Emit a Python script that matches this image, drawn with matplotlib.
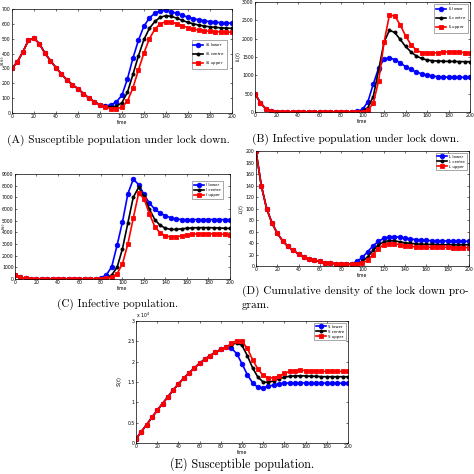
import numpy as np
import matplotlib.pyplot as plt

# time grid (every 5 units)
t = np.arange(0, 201, 5)

# (A) S_L(t)
sl_common = [300, 345, 413, 490, 503, 465, 402, 352, 305, 262, 222, 190, 163, 130, 100, 75, 55]
sl_lower = [48, 55, 75, 120, 230, 370, 490, 585, 640, 672, 688, 690, 682, 670, 657, 645, 635,
            627, 620, 615, 611, 608, 606, 604]
sl_centre = [45, 40, 45, 70, 140, 260, 385, 495, 570, 617, 645, 655, 650, 638, 623, 610, 600,
             592, 585, 580, 576, 573, 571, 570]
sl_upper = [38, 30, 30, 38, 80, 170, 290, 405, 500, 565, 602, 615, 612, 600, 587, 575, 565,
            558, 553, 550, 547, 546, 545, 544]

# (B) I_L(t)
il_common = [500, 250, 90, 30, 10, 4, 2, 1, 0, 0, 0, 0, 0, 0, 0, 0, 0, 1, 3]
il_lower = [15, 70, 280, 760, 1200, 1440, 1480, 1430, 1340, 1240, 1160, 1090, 1040, 1005, 980,
            965, 955, 950, 948, 947, 946, 945]
il_centre = [6, 25, 120, 420, 1150, 1900, 2230, 2170, 1980, 1790, 1640, 1530, 1460, 1420, 1400,
             1390, 1385, 1380, 1378, 1376, 1374, 1372]
il_upper = [3, 10, 50, 240, 850, 1900, 2640, 2620, 2380, 2080, 1840, 1690, 1620, 1600, 1605,
            1620, 1635, 1640, 1640, 1630, 1620, 1610]

# (C) I(t)
i_common = [300, 130, 50, 20, 10, 5, 3, 2, 2, 2, 2, 2, 3, 5, 8, 15]
i_lower = [100, 350, 1050, 2900, 4900, 7300, 8550, 8100, 7250, 6500, 6000, 5650, 5420, 5250,
           5150, 5100, 5090, 5090, 5100, 5100, 5100, 5100, 5100, 5090, 5080]
i_centre = [30, 100, 350, 1000, 2600, 4800, 7000, 7850, 7100, 6000, 5100, 4600, 4350, 4250,
            4250, 4300, 4350, 4380, 4400, 4400, 4400, 4390, 4370, 4350, 4330]
i_upper = [15, 50, 150, 450, 1300, 3000, 5200, 7350, 6900, 5600, 4500, 3950, 3700, 3600, 3620,
           3700, 3780, 3840, 3870, 3880, 3880, 3870, 3850, 3830, 3810]

# (D) L(t)
l_common = [200, 140, 100, 75, 57, 44, 34, 27, 21, 16, 13, 10, 8, 6, 5, 4, 3.5, 3]
l_lower = [4, 8, 15, 25, 35, 43, 48, 50.5, 51, 50, 48.5, 47, 46, 45, 44.5, 44, 44, 43.5, 43.5,
           43, 43, 43, 43]
l_centre = [3, 4, 8, 16, 27, 36, 42, 44, 44, 42, 40.5, 39.5, 38.5, 38, 37.5, 37.5, 37, 37, 37,
            37, 37, 37, 37]
l_upper = [3, 3, 5, 10, 20, 30, 37, 39, 39, 37, 35, 34, 33.5, 33, 32.5, 32.5, 32.5, 32.5, 32.5,
           32, 32, 32, 32]

# (E) S(t) in units of 10^4
s_common = [0.1, 0.28, 0.45, 0.63, 0.8, 0.97, 1.13, 1.3, 1.45, 1.59, 1.72, 1.84, 1.96, 2.06,
            2.15, 2.23, 2.3, 2.35]
s_lower = [2.33, 2.2, 1.95, 1.68, 1.48, 1.37, 1.36, 1.39, 1.43, 1.46, 1.47, 1.48, 1.48, 1.48,
           1.48, 1.48, 1.48, 1.48, 1.47, 1.47, 1.47, 1.47, 1.47]
s_centre = [2.42, 2.46, 2.4, 2.15, 1.85, 1.62, 1.5, 1.49, 1.53, 1.58, 1.62, 1.64, 1.65, 1.65,
            1.65, 1.64, 1.64, 1.63, 1.63, 1.63, 1.63, 1.63, 1.63]
s_upper = [2.45, 2.52, 2.5, 2.33, 2.05, 1.82, 1.66, 1.6, 1.6, 1.65, 1.71, 1.76, 1.78, 1.79,
           1.78, 1.77, 1.77, 1.76, 1.76, 1.76, 1.76, 1.76, 1.76]

styles = [('b', 'o', 'lower'), ('k', '.', 'centre'), ('r', 's', 'upper')]
tick_fs = 3.3

fig = plt.figure(figsize=(4.74, 4.74), dpi=100)


def caption(x, y, txt, size):
    fig.text(x / 474, 1 - y / 474, txt, fontsize=size, family='cmr10', ha='left', va='center')


def panel(rect, common, series, ylim, yticks, ylabel, prefix, leg_kw, ylab_x, ylab_fs=3.6):
    ax = fig.add_axes(rect)
    for (c, m, name), tail in zip(styles, series):
        y = np.array(common + tail, dtype=float)
        ax.plot(t, y, '-', color=c, marker=m, markersize=3.3 if m != '.' else 4.5,
                linewidth=1.2, markeredgewidth=0.6, label=prefix + ' ' + name)
    ax.set_xlim(0, 200)
    ax.set_ylim(*ylim)
    ax.set_xticks(np.arange(0, 201, 20))
    ax.set_yticks(yticks)
    ax.tick_params(direction='in', length=1.5, width=0.4, labelsize=tick_fs, pad=1,
                   top=True, right=True)
    for s in ax.spines.values():
        s.set_linewidth(0.5)
    ax.set_xlabel('time', fontsize=tick_fs, labelpad=0.5)
    ax.set_ylabel(ylabel, fontsize=ylab_fs)
    ax.yaxis.set_label_coords(ylab_x, 0.5)
    leg = ax.legend(fontsize=2.8, handlelength=2.6, borderpad=0.45, labelspacing=0.25,
                    handletextpad=0.5, fancybox=False, edgecolor='0.4', framealpha=1, **leg_kw)
    leg.get_frame().set_linewidth(0.4)
    return ax


panel([0.0253, 0.7616, 0.464, 0.2194], sl_common, [sl_lower, sl_centre, sl_upper],
      (0, 700), np.arange(0, 701, 100), r'$S_L(t)$', r'$S_L$',
      dict(loc='upper right', bbox_to_anchor=(0.985, 0.72)), -0.022, 3.0)
caption(7, 140, '(A) Susceptible population under lock down.', 8.15)

panel([0.538, 0.7637, 0.4536, 0.232], il_common, [il_lower, il_centre, il_upper],
      (0, 3000), np.arange(0, 3001, 500), r'$I_L(t)$', r'$I_L$',
      dict(loc='upper right'), -0.055)
caption(252, 139, '(B) Infective population under lock down.', 8.1)

panel([0.0316, 0.4114, 0.4536, 0.2215], i_common, [i_lower, i_centre, i_upper],
      (0, 9000), np.arange(0, 9001, 1000), r'$I(t)$', 'I',
      dict(loc='upper right', bbox_to_anchor=(0.975, 0.95)), -0.035, 3.0)
caption(57, 304, '(C) Infective population.', 8.0)

panel([0.540, 0.4388, 0.449, 0.2426], l_common, [l_lower, l_centre, l_upper],
      (0, 200), np.arange(0, 201, 20), r'$L(t)$', 'L',
      dict(loc='upper right'), -0.048)
caption(242, 291, '(D) Cumulative density of the lock down pro-', 8.1)
caption(242, 305, 'gram.', 8.1)

axE = panel([0.287, 0.0654, 0.447, 0.2574], s_common, [s_lower, s_centre, s_upper],
            (0, 3), np.arange(0, 3.01, 0.5), r'$S(t)$', 'S',
            dict(loc='upper right'), -0.055)
axE.set_yticklabels(['0', '0.5', '1', '1.5', '2', '2.5', '3'])
axE.text(0.0, 1.01, r'x 10$^4$', transform=axE.transAxes, fontsize=tick_fs, ha='left', va='bottom')
caption(170, 464, '(E) Susceptible population.', 8.7)

fig.savefig('out.png', dpi=100)
